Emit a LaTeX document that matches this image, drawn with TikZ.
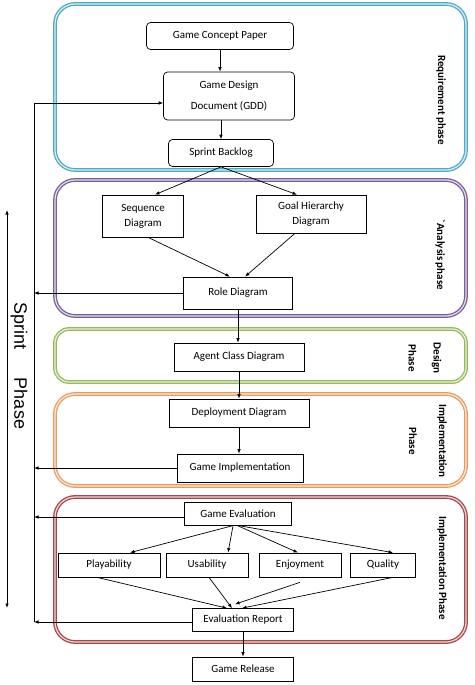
\documentclass[tikz,border=0pt]{standalone}
\usepackage{fontspec}
\setmainfont{Carlito}
\newfontfamily\arialfont{Liberation Sans}
\usetikzlibrary{arrows.meta}
\definecolor{reqcol}{RGB}{75,172,198}
\definecolor{anacol}{RGB}{120,95,155}
\definecolor{descol}{RGB}{150,185,90}
\definecolor{impcol}{RGB}{232,155,95}
\definecolor{evacol}{RGB}{170,70,70}
\tikzset{
  blk/.style={draw, rectangle, inner sep=2pt, align=center,
    font=\fontsize{11}{15}\selectfont},
  rblk/.style={blk, rounded corners=4pt},
  phase/.style={draw=#1, line width=1.3pt, double=#1!20,
    double distance=1.2pt, rounded corners=20pt},
  plabel/.style={rotate=-90, align=center,
    font=\bfseries\fontsize{11}{13}\selectfont},
}
\begin{document}
\begin{tikzpicture}[x=1pt,y=-1pt,line width=0.7pt,>={Latex[length=4.5pt,width=3.5pt]}]
    \useasboundingbox (0,0) rectangle (474,685);
    % phases
    \draw [phase=reqcol] (55,4) rectangle (466,170);
    \draw [phase=anacol] (55,180) rectangle (466,316);
    \draw [phase=descol,rounded corners=14pt] (55,329) rectangle (466,382);
    \draw [phase=impcol] (55,394) rectangle (466,486);
    \draw [phase=evacol] (55,497) rectangle (466,642);
    \node [plabel] (reqlbl) at (441,100) {Requirement phase};
    \node [plabel] (analbl) at (440,255) {\textasciigrave Analysis phase};
    \node [plabel] (deslbl) at (425,358) {Design\\[12pt]Phase};
    \node [plabel] (implbl) at (428,441) {Implementation\\[17pt]Phase};
    \node [plabel] (evalbl) at (442,568) {Implementation Phase};
    % requirement
    \node [rblk,minimum width=147pt,minimum height=27pt] (concept) at (220,36) {Game Concept Paper};
    \node [rblk,minimum width=131pt,minimum height=48pt] (gdd) at (229,96) {Game Design\\[6pt]Document (GDD)};
    \node [rblk,minimum width=105pt,minimum height=27pt] (backlog) at (221,153) {Sprint Backlog};
    % analysis
    \node [blk,minimum width=81pt,minimum height=42pt] (seq) at (143,216) {Sequence\\Diagram};
    \node [blk,minimum width=110pt,minimum height=38pt] (goal) at (311,214) {Goal Hierarchy\\Diagram};
    \node [blk,minimum width=109pt,minimum height=32pt] (role) at (238,293) {Role Diagram};
    % design, implementation
    \node [blk,minimum width=130pt,minimum height=28pt] (agent) at (239,357) {Agent Class Diagram};
    \node [blk,minimum width=140pt,minimum height=28pt] (deploy) at (239,413) {Deployment Diagram};
    \node [blk,minimum width=126pt,minimum height=28pt] (impl) at (240,468) {Game Implementation};
    % evaluation
    \node [blk,minimum width=107pt,minimum height=23pt] (eval) at (238,514) {Game Evaluation};
    \node [blk,minimum width=102pt,minimum height=24pt] (play) at (109,565) {Playability};
    \node [blk,minimum width=82pt,minimum height=24pt] (usab) at (207,565) {Usability};
    \node [blk,minimum width=82pt,minimum height=24pt] (enjoy) at (300,565) {Enjoyment};
    \node [blk,minimum width=65pt,minimum height=24pt] (qual) at (383,565) {Quality};
    \node [blk,minimum width=101pt,minimum height=23pt] (report) at (243,620) {Evaluation Report};
    \node [blk,minimum width=101pt,minimum height=24pt] (release) at (243,669) {Game Release};
    % flow
    \draw [->] (concept.south) -- (concept.south |- gdd.north);
    \draw [->] (backlog.north |- gdd.south) -- (backlog.north);
    \draw [->] (backlog.south) -- ([xshift=12pt]seq.north);
    \draw [->] (backlog.south) -- ([xshift=-14pt]goal.north);
    \draw [->] ([xshift=5pt]seq.south) -- ([xshift=-8pt]role.north);
    \draw [->] ([xshift=-16pt]goal.south) -- ([xshift=7pt]role.north);
    \draw [->] (role.south) -- (role.south |- agent.north);
    \draw [->] (agent.south) -- (agent.south |- deploy.north);
    \draw [->] (deploy.south) -- (deploy.south |- impl.north);
    \draw [->] ([xshift=-6pt]eval.south) -- ([xshift=21pt]play.north);
    \draw [->] ([xshift=-5pt]eval.south) -- ([xshift=21pt]usab.north);
    \draw [->] (eval.south) -- ([xshift=-2pt]enjoy.north);
    \draw [->] ([xshift=2pt]eval.south) -- ([xshift=10pt]qual.north);
    \draw [->] ([xshift=-12pt]play.south) -- ([xshift=-16pt]report.north);
    \draw [->] ([xshift=2pt]usab.south) -- ([xshift=-11pt]report.north);
    \draw [->] ([yshift=-5pt]enjoy.south) -- ([xshift=-8pt,yshift=4pt]report.north);
    \draw [->] ([xshift=10pt]qual.south) -- ([xshift=-1pt]report.north);
    \draw [->] (report.south) -- (release.north);
    % feedback
    \coordinate (fbtop) at (34,103);
    \coordinate (fbbot) at (34,622);
    \draw [->] (fbbot) -- (fbtop) -- (fbtop -| gdd.west);
    \draw [->] (role.west) -- (role.west -| fbtop);
    \draw [->] (impl.west) -- (impl.west -| fbtop);
    \draw [->] ([yshift=-3pt]eval.west) -- ([yshift=-3pt]eval.west -| fbtop);
    \draw [->] ([yshift=-2pt]report.west) -- ([yshift=-2pt]report.west -| fbtop);
    % sprint
    \coordinate (spt) at (7,210);
    \coordinate (spb) at (7,608);
    \draw [<->] (spt) -- (spb);
    \node [rotate=-90,font=\arialfont\fontsize{18}{20}\selectfont] (sprint) at (19,366) {Sprint\hspace{28pt}Phase};
\end{tikzpicture}
\end{document}
